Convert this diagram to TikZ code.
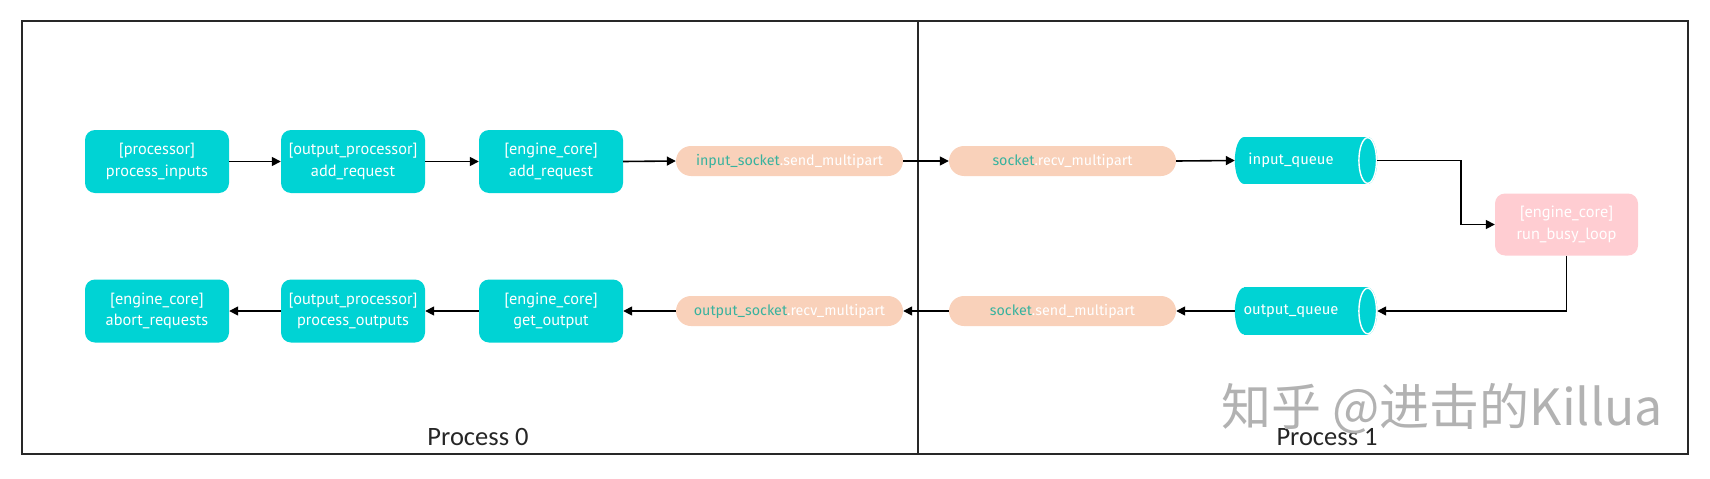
\documentclass[tikz,border=0pt]{standalone}
\usepackage{fontspec}
\setmainfont{PT Sans}
\newfontfamily\pillfont{Fira Sans}
\newfontfamily\labfont{Carlito}
\newfontfamily\cjkfont{Noto Sans CJK SC}
\usetikzlibrary{arrows.meta,calc}
\definecolor{teal1}{RGB}{0,211,212}
\definecolor{peach}{RGB}{249,209,186}
\definecolor{pilltxt}{RGB}{56,178,158}
\definecolor{pinkbox}{RGB}{255,205,210}
\definecolor{framec}{RGB}{40,40,40}
\tikzset{
  fnbox/.style={rectangle, rounded corners=10pt, fill=teal1, text=white,
    minimum width=144pt, minimum height=63pt, align=center, inner sep=0pt,
    font=\fontsize{16.3pt}{21.5pt}\selectfont},
  busybox/.style={fnbox, fill=pinkbox, minimum width=143pt, minimum height=62pt},
  pill/.style={rectangle, rounded corners=15pt, fill=peach, text=white,
    minimum width=227pt, minimum height=30pt, inner sep=0pt,
    font=\pillfont\fontsize{14.3pt}{16pt}\selectfont},
  queue/.style={rectangle, minimum width=142pt, minimum height=47pt, inner sep=0pt},
  qtext/.style={text=white, font=\pillfont\fontsize{14.8pt}{17pt}\selectfont},
  arr/.style={draw=black, line width=1.6pt, -{Triangle[length=9pt,width=9pt]}},
  frameline/.style={draw=framec, line width=2pt},
  proclabel/.style={font=\labfont\fontsize{26.5pt}{30pt}\selectfont, text=black!85},
}
\newcommand{\drawcyl}[1]{%
  \fill[teal1] ($(#1.north west)+(9.5,0)$) rectangle ($(#1.south east)+(-9.5,0)$);
  \fill[teal1] ($(#1.west)+(9.5,0)$) ellipse [x radius=9.5pt, y radius=23.5pt];
  \fill[teal1] ($(#1.east)+(-9.5,0)$) ellipse [x radius=9.5pt, y radius=23.5pt];
  \draw[white, line width=1.4pt] ($(#1.east)+(-9.5,0)$) ellipse [x radius=8.8pt, y radius=22.8pt];
}
\begin{document}
\begin{tikzpicture}[x=1pt,y=-1pt]
\useasboundingbox (0,0) rectangle (1710,479);
% frames
\draw[frameline] (22,21) rectangle (1688,454);
\draw[frameline] (918,21) -- (918,454);
% top row
\node[fnbox] (pi) at (157,161.5) {[processor]\\process\_inputs};
\node[fnbox] (opa) at (353,161.5) {[output\_processor]\\add\_request};
\node[fnbox] (eca) at (551,161.5) {[engine\_core]\\add\_request};
\node[pill] (isend) at (789.5,161) {{\color{pilltxt}input\_socket}.send\_multipart};
\node[pill] (srecv) at (1062.5,161) {{\color{pilltxt}socket}.recv\_multipart};
\node[queue] (iq) at (1306,160.5) {};
\drawcyl{iq}
\node[qtext] (iqt) at (1291,160.5) {input\_queue};
% busy loop
\node[busybox] (rbl) at (1566.5,224.5) {[engine\_core]\\run\_busy\_loop};
% bottom row
\node[queue] (oq) at (1306,311) {};
\drawcyl{oq}
\node[qtext] (oqt) at (1291,311) {output\_queue};
\node[pill] (ssend) at (1062.5,311) {{\color{pilltxt}socket}.send\_multipart};
\node[pill] (orecv) at (789.5,311) {{\color{pilltxt}output\_socket}.recv\_multipart};
\node[fnbox] (ecg) at (551,311) {[engine\_core]\\get\_output};
\node[fnbox] (opp) at (353,311) {[output\_processor]\\process\_outputs};
\node[fnbox] (eab) at (157,311) {[engine\_core]\\abort\_requests};
% labels
\node[proclabel] (l0) at (478,437) {Process 0};
\node[proclabel] (l1) at (1327,437) {Process 1};
% connectors
\draw[arr] (pi.east) -- (opa.west);
\draw[arr] (opa.east) -- (eca.west);
\draw[arr] (eca.east) -- (isend.west);
\draw[arr] (isend.east) -- (srecv.west);
\draw[arr] (srecv.east) -- (iq.west);
\coordinate (t1) at (1461,224.5);
\draw[arr] (iq.east) -| (t1) -- (rbl.west);
\draw[arr] (rbl.south) |- (oq.east);
\draw[arr] (oq.west) -- (ssend.east);
\draw[arr] (ssend.west) -- (orecv.east);
\draw[arr] (orecv.west) -- (ecg.east);
\draw[arr] (ecg.west) -- (opp.east);
\draw[arr] (opp.west) -- (eab.east);
% watermark
\node[text=black!30, font=\cjkfont\fontsize{50pt}{54pt}\selectfont] (wm) at (1442,409) {知乎 @进击的Killua};
\end{tikzpicture}
\end{document}
